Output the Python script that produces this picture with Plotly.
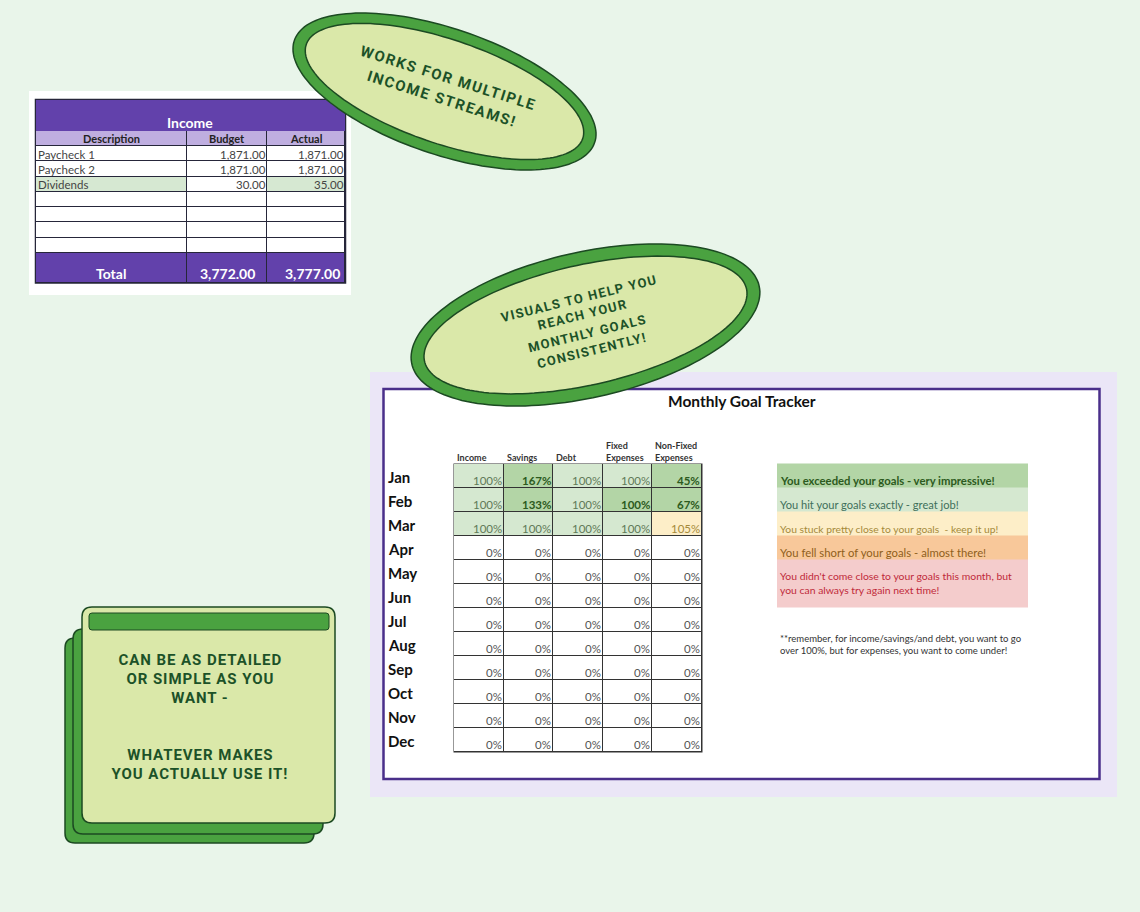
import numpy as np
import plotly.graph_objects as go

# income table
income_columns = ["Description", "Budget", "Actual"]
income_names = ["Paycheck 1", "Paycheck 2", "Dividends", "", "", "", ""]
income_budget = ["1,871.00", "1,871.00", "30.00", "", "", "", ""]
income_actual = ["1,871.00", "1,871.00", "35.00", "", "", "", ""]
income_total = ["Total", "3,772.00", "3,777.00"]

# goal tracker
months = ["Jan", "Feb", "Mar", "Apr", "May", "Jun", "Jul", "Aug", "Sep", "Oct", "Nov", "Dec"]
tracker_heads = ["Income", "Savings", "Debt", "Fixed<br>Expenses", "Non-Fixed<br>Expenses"]
tracker_pct = [
    [100, 167, 100, 100, 45],
    [100, 133, 100, 100, 67],
    [100, 100, 100, 100, 105],
] + [[0, 0, 0, 0, 0] for m in months[3:]]
# 0 blank, 1 hit, 2 exceeded, 3 close
tracker_status = [
    [1, 2, 1, 1, 2],
    [1, 2, 1, 2, 2],
    [1, 1, 1, 1, 3],
] + [[0, 0, 0, 0, 0] for m in months[3:]]

legend_text = [
    "You exceeded your goals - very impressive!",
    "You hit your goals exactly - great job!",
    "You stuck pretty close to your goals  - keep it up!",
    "You fell short of your goals - almost there!",
    "You didn't come close to your goals this month, but<br>you can always try again next time!",
]
footnote = "**remember, for income/savings/and debt, you want to go<br>over 100%, but for expenses, you want to come under!"

BG = "#e9f5ea"
PURPLE = "#6241ab"
DARK = "#1c4a22"
MID_GREEN = "#4aa240"
PALE_GREEN = "#dae8a9"
TEXT_GREEN = "#1c5228"
FONT = "Lato"
STICKER = "Roboto"

fig = go.Figure()
shapes = []
notes = []


def add_text(x, y, text, size, color, bold=False, anchor="center", angle=0, family=FONT, valign="middle"):
    notes.append(dict(x=x, y=y, xref="x", yref="y", text=text, showarrow=False, xanchor=anchor,
                      yanchor=valign, align=anchor, textangle=angle, borderpad=0, borderwidth=0,
                      font=dict(family=family, size=size, color=color, weight=700 if bold else 400)))


def rect(x0, y0, x1, y1, fill, line=None, width=0, layer="below"):
    shapes.append(dict(type="rect", x0=x0, y0=y0, x1=x1, y1=y1, fillcolor=fill, layer=layer,
                       line=dict(color=line or fill, width=width)))


def round_rect(x0, y0, x1, y1, r, fill, line, width=1.5):
    p = (f"M {x0+r} {y0} L {x1-r} {y0} Q {x1} {y0} {x1} {y0+r} L {x1} {y1-r} Q {x1} {y1} {x1-r} {y1} "
         f"L {x0+r} {y1} Q {x0} {y1} {x0} {y1-r} L {x0} {y0+r} Q {x0} {y0} {x0+r} {y0} Z")
    shapes.append(dict(type="path", path=p, fillcolor=fill, layer="above", line=dict(color=line, width=width)))


def ellipse(cx, cy, a, b, deg, fill, line, width=1.5):
    t = np.linspace(0, 2 * np.pi, 160)[:-1]
    th = np.radians(deg)
    xs = cx + a * np.cos(t) * np.cos(th) - b * np.sin(t) * np.sin(th)
    ys = cy + a * np.cos(t) * np.sin(th) + b * np.sin(t) * np.cos(th)
    p = "M " + " L ".join(f"{x:.1f} {y:.1f}" for x, y in zip(xs, ys)) + " Z"
    shapes.append(dict(type="path", path=p, fillcolor=fill, layer="above", line=dict(color=line, width=width)))


# income table ------------------------------------------------------------
rect(29, 91, 351, 295, "#ffffff")
rect(35.5, 99.5, 345.5, 283, "#26263a", "#26263a", 1.5)
rect(36, 100, 345, 131, PURPLE)

inc_x = [36, 187, 267, 345]
inc_y = [131, 146, 161, 176.5, 192, 207, 222, 237.5, 253, 282.5]
inc_fill = [[1, 1, 1]] + [[0, 0, 0] for n in income_names] + [[3, 3, 3]]
inc_fill[3] = [2, 0, 2]  # dividends row is highlighted
fig.add_trace(go.Heatmap(
    x=inc_x, y=inc_y, z=inc_fill, zmin=0, zmax=3, xgap=1, ygap=1, showscale=False, hoverinfo="skip",
    colorscale=[[0, "#ffffff"], [0.25, "#ffffff"], [0.25, "#bfaee0"], [0.5, "#bfaee0"],
                [0.5, "#d6e8d2"], [0.75, "#d6e8d2"], [0.75, PURPLE], [1, PURPLE]],
))

add_text(190, 122, "Income", 14, "#ffffff", True)
for c, cx in zip(income_columns, [111, 227, 306]):
    add_text(cx, 138.5, c, 11, "#222222", True)
for i, (name, bud, act) in enumerate(zip(income_names, income_budget, income_actual)):
    ym = (inc_y[i + 1] + inc_y[i + 2]) / 2 + 0.5
    if name:
        add_text(38, ym, name, 11.5, "#444444", anchor="left")
        add_text(265.5, ym, bud, 11.5, "#444444", anchor="right")
        add_text(344, ym, act, 11.5, "#444444", anchor="right")
for t, cx in zip(income_total, [111, 227, 312]):
    add_text(cx, 273, t, 14, "#ffffff", True)

# goal tracker panel ------------------------------------------------------
rect(370, 372, 1117, 797, "#ebe6f7")
rect(383.5, 389, 1099.5, 779, "#ffffff", "#4a2f8a", 2.5)
add_text(742, 400.5, "Monthly Goal Tracker", 15.5, "#111111", True)

cell_w = 49.6
cell_h = 24
grid_x0, grid_y0 = 454, 464
grid_x = [grid_x0 + cell_w * i for i in range(len(tracker_heads) + 1)]
grid_y = [grid_y0 + cell_h * i for i in range(len(months) + 1)]
rect(grid_x[0] - 0.5, grid_y[0] - 0.5, grid_x[-1] + 0.5, grid_y[-1] + 0.5, "#333333")
fig.add_trace(go.Heatmap(
    x=grid_x, y=grid_y, z=tracker_status, zmin=0, zmax=3, xgap=1, ygap=1, showscale=False, hoverinfo="skip",
    colorscale=[[0, "#ffffff"], [0.25, "#ffffff"], [0.25, "#d5e8d0"], [0.5, "#d5e8d0"],
                [0.5, "#b3d5a6"], [0.75, "#b3d5a6"], [0.75, "#fdeec8"], [1, "#fdeec8"]],
))

pct_color = {0: "#555555", 1: "#5f7a58", 2: "#2c5a20", 3: "#a58a3a"}
for i, m in enumerate(months):
    add_text(388, grid_y[i] + 13, m, 15, "#111111", True, anchor="left")
    for j in range(len(tracker_heads)):
        st = tracker_status[i][j]
        add_text(grid_x[j + 1] - 2, grid_y[i] + 16.5, f"{tracker_pct[i][j]}%", 11.5, pct_color[st],
                 st == 2, anchor="right")
for j, h in enumerate(tracker_heads):
    add_text(grid_x[j] + 3, 463, h, 9, "#333333", True, anchor="left", valign="bottom")

leg_y = [463.5, 487, 511, 535, 559, 607]
fig.add_trace(go.Heatmap(
    x=[777, 1028], y=leg_y, z=[[0], [1], [2], [3], [4]], zmin=0, zmax=4, showscale=False, hoverinfo="skip",
    colorscale=[[0, "#b3d5a6"], [0.2, "#b3d5a6"], [0.2, "#d5e8d0"], [0.4, "#d5e8d0"],
                [0.4, "#fdeec8"], [0.6, "#fdeec8"], [0.6, "#f8c89a"], [0.8, "#f8c89a"],
                [0.8, "#f4cccc"], [1, "#f4cccc"]],
))
leg_color = ["#2c5a20", "#3f6f5a", "#a58a3a", "#8f5f1c", "#c02a3a"]
leg_ypos = [480, 504, 528.5, 552, 583]
leg_size = [11.3, 11.1, 10.3, 11.3, 10.4]
for i, t in enumerate(legend_text):
    add_text(780, leg_ypos[i], t, leg_size[i], leg_color[i], i == 0, anchor="left")
add_text(780, 644.5, footnote, 9.5, "#333333", anchor="left")

# stickers ----------------------------------------------------------------
ellipse(444.5, 91.5, 158.6, 62.9, 18.8, MID_GREEN, DARK)
ellipse(444.5, 91.5, 146, 52, 18.8, PALE_GREEN, DARK)
add_text(448, 78, "WORKS FOR MULTIPLE", 14.8, TEXT_GREEN, True, angle=17.6, family=STICKER)
add_text(442, 99, "INCOME STREAMS!", 14.8, TEXT_GREEN, True, angle=17.6, family=STICKER)

ellipse(585.5, 325, 178, 72.7, -12.7, MID_GREEN, DARK)
ellipse(585.5, 325, 165, 60, -12.7, PALE_GREEN, DARK)
for t, cx, cy in zip(["VISUALS TO HELP YOU", "REACH YOUR", "MONTHLY GOALS", "CONSISTENTLY!"],
                     [579, 583, 587, 592], [298, 314, 333, 350]):
    add_text(cx, cy, t, 13, TEXT_GREEN, True, angle=-13.9, family=STICKER)

round_rect(65, 638, 314, 843, 10, MID_GREEN, DARK)
round_rect(73, 629, 323, 834, 10, MID_GREEN, DARK)
round_rect(82, 607, 335, 823, 10, PALE_GREEN, DARK)
round_rect(89, 613, 329, 630, 3, MID_GREEN, DARK, 1)
for t, cy in zip(["CAN BE AS DETAILED", "OR SIMPLE AS YOU", "WANT -", "WHATEVER MAKES", "YOU ACTUALLY USE IT!"],
                 [660, 679, 698, 755, 774]):
    add_text(200, cy, t, 15, TEXT_GREEN, True, family=STICKER)

fig.update_layout(
    width=1140, height=912, margin=dict(l=0, r=0, t=0, b=0),
    paper_bgcolor=BG, plot_bgcolor=BG, showlegend=False,
    xaxis=dict(range=[0, 1140], visible=False, fixedrange=True),
    yaxis=dict(range=[912, 0], visible=False, fixedrange=True),
    shapes=shapes, annotations=notes,
)

# page margin off, sticker lettering spaced out
page_js = """
document.body.style.margin = '0';
var gaps = {'14.8px': '1.6px', '13px': '1.3px', '15px': '0.95px'};
document.querySelectorAll('.annotation-text').forEach(function (t) {
    if (t.style.fontFamily.indexOf('Roboto') >= 0) {
        t.style.letterSpacing = gaps[t.style.fontSize];
    }
});
"""
fig.write_html("out.html", config={"displayModeBar": False}, post_script=page_js)
